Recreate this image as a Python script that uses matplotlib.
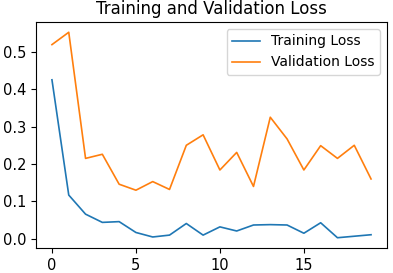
import matplotlib
matplotlib.use("Agg")
import matplotlib.pyplot as plt

epochs = list(range(20))
train_loss = [0.425, 0.117, 0.066, 0.044, 0.046, 0.017, 0.005, 0.010, 0.041, 0.010,
              0.032, 0.021, 0.037, 0.038, 0.037, 0.015, 0.043, 0.003, 0.007, 0.011]
val_loss = [0.519, 0.552, 0.215, 0.226, 0.146, 0.130, 0.153, 0.132, 0.250, 0.278,
            0.184, 0.231, 0.140, 0.325, 0.267, 0.184, 0.249, 0.215, 0.250, 0.160]

fig = plt.figure(figsize=(3.93, 2.73), dpi=100)
ax = fig.add_axes([36 / 393, 1 - 248 / 273, 351 / 393, 226 / 273])
ax.plot(epochs, train_loss, label="Training Loss", lw=1.2)
ax.plot(epochs, val_loss, label="Validation Loss", lw=1.2)
ax.set_title("Training and Validation Loss", fontsize=12)
ax.legend(loc="upper right", fontsize=10)
ax.tick_params(labelsize=10.5)
plt.savefig("out.png", dpi=100)
